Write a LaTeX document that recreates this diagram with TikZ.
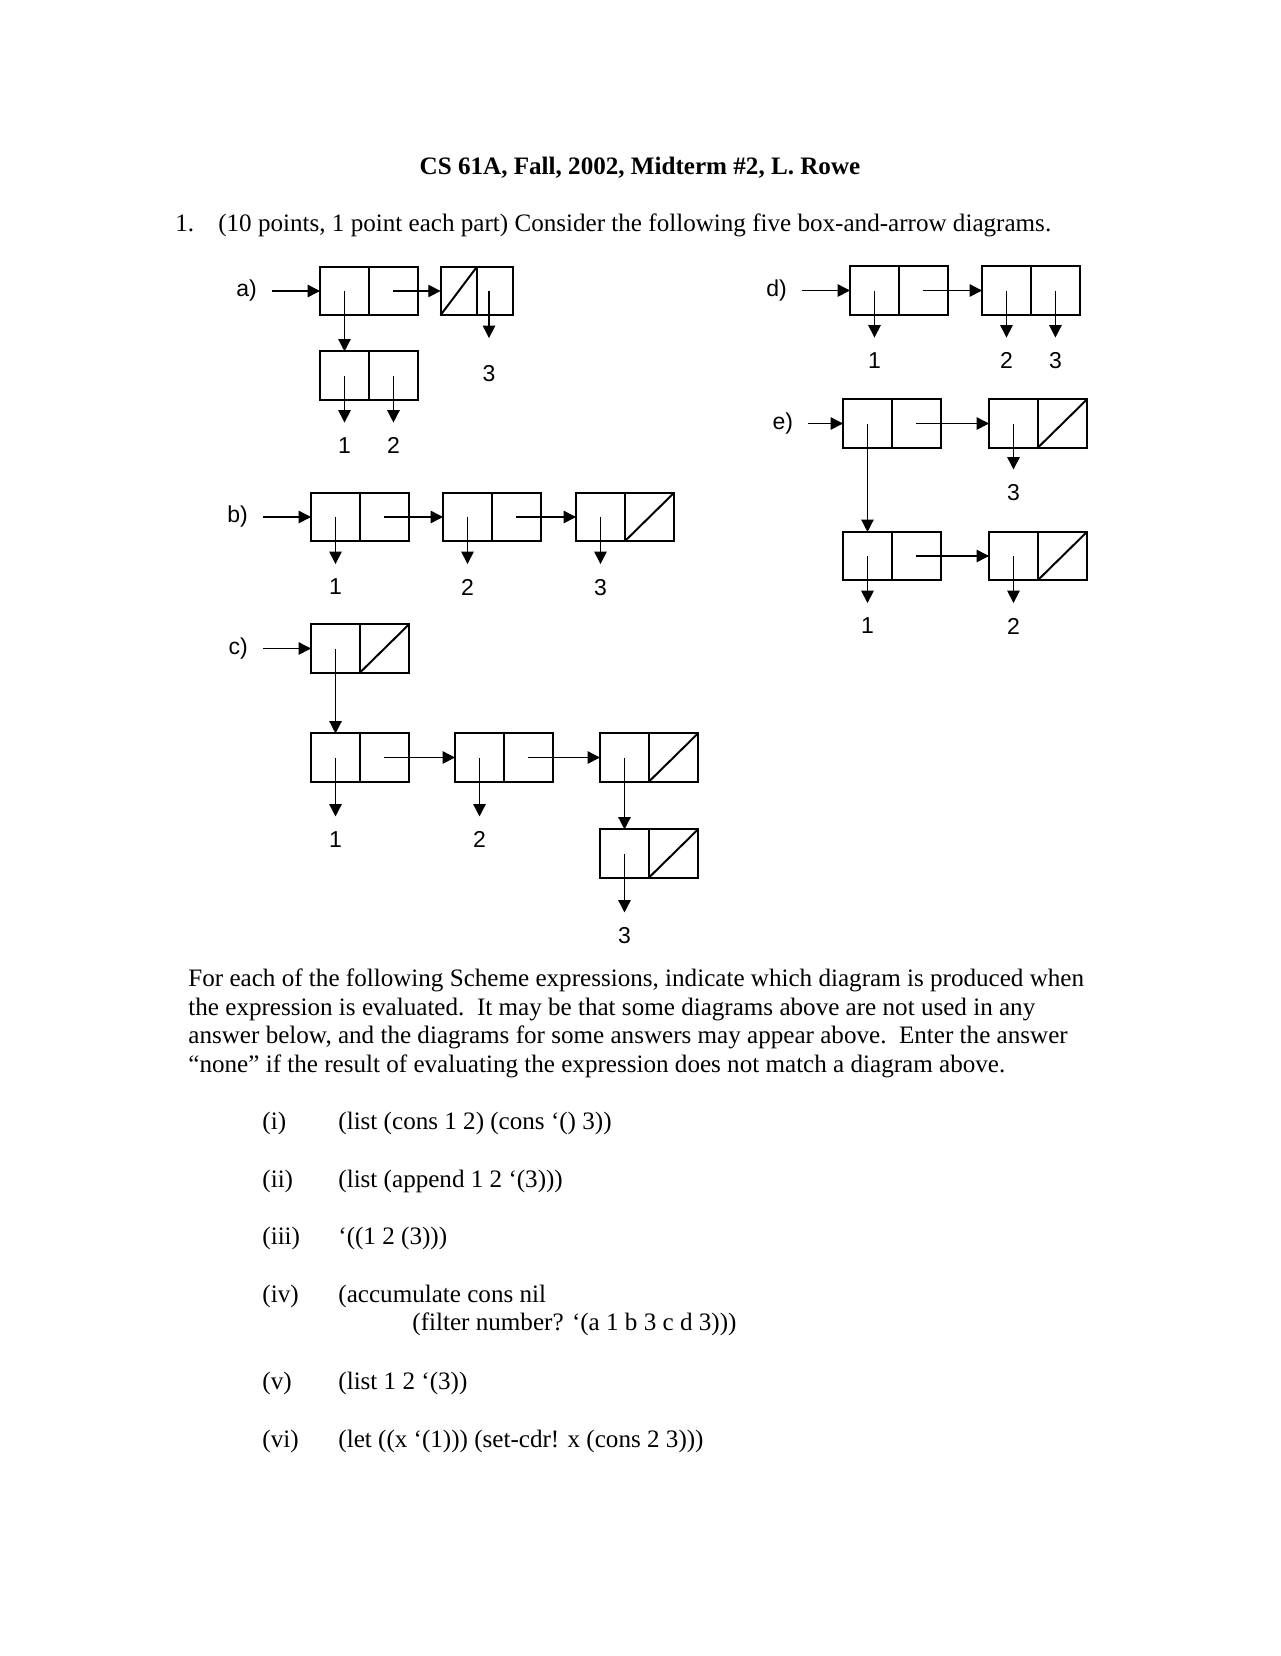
\documentclass[tikz,border=0pt]{standalone}
\usepackage{fontspec}
\setmainfont{Liberation Serif}
\setsansfont{Liberation Sans}
\usetikzlibrary{arrows.meta, positioning}
\newcommand{\boxfont}{\sffamily\fontsize{11}{13}\selectfont}

\begin{document}
\begin{tikzpicture}[x=0.478125pt, y=0.478125pt,
  half/.style={draw, line width=0.95pt, minimum width=23.4pt, minimum height=23pt, inner sep=0pt, outer sep=0pt},
  slim/.style={half, minimum width=17.3pt},
  ptr/.style={-{Triangle[length=5.9pt,width=5.9pt]}, line width=0.65pt},
  nil/.style={line width=0.95pt},
  atom/.style={font=\boxfont, inner xsep=0pt, inner ysep=7pt},
  tag/.style={font=\boxfont, inner xsep=7pt},
  txt/.style={anchor=base west, inner sep=0pt, font=\fontsize{12}{14}\selectfont}]
  \fill[white] (0,0) rectangle (1280,-1656);

  % heading
  \node[anchor=base, inner sep=0pt, font=\bfseries\fontsize{12}{14}\selectfont] (title) at (640,-174) {CS 61A, Fall, 2002, Midterm \#2, L. Rowe};
  \node[txt] (q1) at (175,-231) {1.\hspace{11.5pt}(10 points, 1 point each part) Consider the following five box-and-arrow diagrams.};

  % a)
  \node[half] (a1car) at (344.5,-291) {};
  \node[half, right=0pt of a1car] (a1cdr) {};
  \node[slim] (a2car) at (458.7,-291) {};
  \node[slim, right=0pt of a2car] (a2cdr) {};
  \node[half] (a3car) at (344.5,-375.5) {};
  \node[half, right=0pt of a3car] (a3cdr) {};
  \node[tag, left=23pt of a1car] (atag) {a)};
  \draw[nil] (a2car.south west) -- (a2car.north east);
  \draw[ptr] (atag) -- (a1car);
  \draw[ptr] (a1cdr.center) -- (a2car);
  \draw[ptr] (a1car.center) -- (a3car);
  \node[atom, inner ysep=12.7pt, below=11pt of a2cdr, xshift=-2.8pt] (a2three) {3};
  \draw[ptr] (a2three |- a2cdr.center) -- (a2three);
  \node[atom, below=11pt of a3car] (a3one) {1};
  \node[atom, below=11pt of a3cdr] (a3two) {2};
  \draw[ptr] (a3car.center) -- (a3one);
  \draw[ptr] (a3cdr.center) -- (a3two);

  % b)
  \node[half] (b1car) at (335.5,-517) {};
  \node[half, right=0pt of b1car] (b1cdr) {};
  \node[half] (b2car) at (467.5,-517) {};
  \node[half, right=0pt of b2car] (b2cdr) {};
  \node[half] (b3car) at (600.5,-517) {};
  \node[half, right=0pt of b3car] (b3cdr) {};
  \node[tag, left=23pt of b1car] (btag) {b)};
  \draw[nil] (b3cdr.south west) -- (b3cdr.north east);
  \draw[ptr] (btag) -- (b1car);
  \draw[ptr] (b1cdr.center) -- (b2car);
  \draw[ptr] (b2cdr.center) -- (b3car);
  \node[atom, below=11pt of b1car] (b1val) {1};
  \node[atom, below=11pt of b2car] (b2val) {2};
  \node[atom, below=11pt of b3car] (b3val) {3};
  \draw[ptr] (b1car.center) -- (b1val);
  \draw[ptr] (b2car.center) -- (b2val);
  \draw[ptr] (b3car.center) -- (b3val);

  % c)
  \node[half] (c1car) at (335.5,-648.5) {};
  \node[half, right=0pt of c1car] (c1cdr) {};
  \node[half] (c2car) at (335.5,-757.5) {};
  \node[half, right=0pt of c2car] (c2cdr) {};
  \node[half] (c3car) at (479.5,-757.5) {};
  \node[half, right=0pt of c3car] (c3cdr) {};
  \node[half] (c4car) at (624.5,-757.5) {};
  \node[half, right=0pt of c4car] (c4cdr) {};
  \node[half] (c5car) at (624.5,-853.5) {};
  \node[half, right=0pt of c5car] (c5cdr) {};
  \node[tag, left=23pt of c1car] (ctag) {c)};
  \draw[nil] (c1cdr.south west) -- (c1cdr.north east);
  \draw[nil] (c4cdr.south west) -- (c4cdr.north east);
  \draw[nil] (c5cdr.south west) -- (c5cdr.north east);
  \draw[ptr] (ctag) -- (c1car);
  \draw[ptr] (c1car.center) -- (c2car);
  \draw[ptr] (c2cdr.center) -- (c3car);
  \draw[ptr] (c3cdr.center) -- (c4car);
  \draw[ptr] (c4car.center) -- (c5car);
  \node[atom, below=16.7pt of c2car] (c2val) {1};
  \node[atom, below=16.7pt of c3car] (c3val) {2};
  \node[atom, below=16.7pt of c5car] (c5val) {3};
  \draw[ptr] (c2car.center) -- (c2val);
  \draw[ptr] (c3car.center) -- (c3val);
  \draw[ptr] (c5car.center) -- (c5val);

  % d)
  \node[half] (d1car) at (874.5,-290.5) {};
  \node[half, right=0pt of d1car] (d1cdr) {};
  \node[half] (d2car) at (1006.5,-290.5) {};
  \node[half, right=0pt of d2car] (d2cdr) {};
  \node[tag, left=23pt of d1car] (dtag) {d)};
  \draw[ptr] (dtag) -- (d1car);
  \draw[ptr] (d1cdr.center) -- (d2car);
  \node[atom, below=11pt of d1car] (d1val) {1};
  \node[atom, below=11pt of d2car] (d2val) {2};
  \node[atom, below=11pt of d2cdr] (d2rest) {3};
  \draw[ptr] (d1car.center) -- (d1val);
  \draw[ptr] (d2car.center) -- (d2val);
  \draw[ptr] (d2cdr.center) -- (d2rest);

  % e)
  \node[half] (e1car) at (867.5,-423.5) {};
  \node[half, right=0pt of e1car] (e1cdr) {};
  \node[half] (e2car) at (1013.5,-423.5) {};
  \node[half, right=0pt of e2car] (e2cdr) {};
  \node[half] (e3car) at (867.5,-556) {};
  \node[half, right=0pt of e3car] (e3cdr) {};
  \node[half] (e4car) at (1013.5,-556) {};
  \node[half, right=0pt of e4car] (e4cdr) {};
  \node[tag, left=16.7pt of e1car] (etag) {e)};
  \draw[nil] (e2cdr.south west) -- (e2cdr.north east);
  \draw[nil] (e4cdr.south west) -- (e4cdr.north east);
  \draw[ptr] (etag) -- (e1car);
  \draw[ptr] (e1cdr.center) -- (e2car);
  \draw[ptr] (e1car.center) -- (e3car);
  \draw[ptr] (e3cdr.center) -- (e4car);
  \node[atom, below=10.5pt of e2car] (e2val) {3};
  \node[atom, below=11pt of e3car] (e3val) {1};
  \node[atom, below=11pt of e4car] (e4val) {2};
  \draw[ptr] (e2car.center) -- (e2val);
  \draw[ptr] (e3car.center) -- (e3val);
  \draw[ptr] (e4car.center) -- (e4val);

  % question text
  \node[txt] (p1) at (188,-986) {For each of the following Scheme expressions, indicate which diagram is produced when};
  \node[txt] (p2) at (188,-1015) {the expression is evaluated.\ \ It may be that some diagrams above are not used in any};
  \node[txt] (p3) at (188,-1043) {answer below, and the diagrams for some answers may appear above.\ \ Enter the answer};
  \node[txt] (p4) at (188,-1072) {“none” if the result of evaluating the expression does not match a diagram above.};

  \node[txt] (i1) at (262,-1129) {(i)};
  \node[txt] (x1) at (338,-1129) {(list (cons 1 2) (cons ‘() 3))};
  \node[txt] (i2) at (262,-1187) {(ii)};
  \node[txt] (x2) at (338,-1187) {(list (append 1 2 ‘(3)))};
  \node[txt] (i3) at (262,-1244) {(iii)};
  \node[txt] (x3) at (338,-1244) {‘((1 2 (3)))};
  \node[txt] (i4) at (262,-1302) {(iv)};
  \node[txt] (x4) at (338,-1302) {(accumulate cons nil};
  \node[txt] (x4b) at (412,-1330) {(filter number? ‘(a 1 b 3 c d 3)))};
  \node[txt] (i5) at (262,-1389) {(v)};
  \node[txt] (x5) at (338,-1389) {(list 1 2 ‘(3))};
  \node[txt] (i6) at (262,-1447) {(vi)};
  \node[txt] (x6) at (338,-1447) {(let ((x ‘(1))) (set-cdr! x (cons 2 3)))};
\end{tikzpicture}
\end{document}
